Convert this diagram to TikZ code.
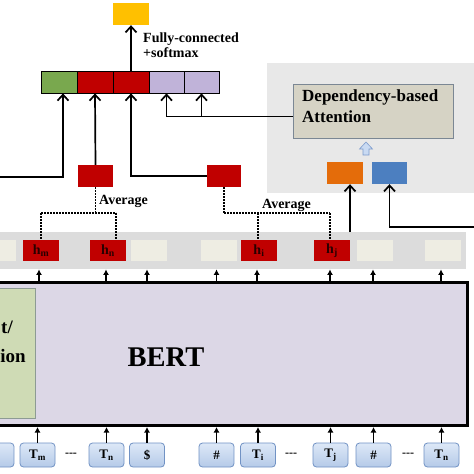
\documentclass[tikz,border=0pt]{standalone}
\usepackage{fontspec}
\setmainfont{Liberation Serif}
\usetikzlibrary{arrows.meta}
\definecolor{cred}{HTML}{C00000}
\definecolor{cgreen}{HTML}{79A84E}
\definecolor{cpurple}{HTML}{C0B3D9}
\definecolor{cyellow}{HTML}{FFC000}
\definecolor{corange}{HTML}{E46C0A}
\definecolor{cblue}{HTML}{4C7FC0}
\definecolor{panelgrey}{HTML}{E8E8E8}
\definecolor{bandgrey}{HTML}{DCDCDC}
\definecolor{beige}{HTML}{EEEDE3}
\definecolor{dbafill}{HTML}{D6D3C5}
\definecolor{dbaborder}{HTML}{7B8794}
\definecolor{bertfill}{HTML}{DCD7E6}
\definecolor{inpfill}{HTML}{CFDBB5}
\definecolor{inpborder}{HTML}{8D9B94}
\definecolor{toktop}{HTML}{DDE8F7}
\definecolor{tokbot}{HTML}{B5CAE8}
\definecolor{tokborder}{HTML}{7192C4}
\definecolor{blockfill}{HTML}{C9DAF2}
\definecolor{blockborder}{HTML}{7E9CCC}
\definecolor{htext}{HTML}{2A0000}
\tikzset{
  cell/.style={draw=black, line width=0.8pt, minimum width=36pt, minimum height=22pt, inner sep=0pt},
  plainbox/.style={minimum width=36pt, minimum height=22pt, inner sep=0pt},
  hbox/.style={minimum width=36pt, minimum height=21pt, inner sep=0pt, text=htext, font=\bfseries\fontsize{14}{14}\selectfont},
  tok/.style={rounded corners=3.5pt, draw=tokborder, line width=0.8pt, top color=toktop, bottom color=tokbot,
    minimum width=35pt, minimum height=24pt, inner sep=0pt, font=\bfseries\fontsize{13}{13}\selectfont},
  conn/.style={line width=1.7pt, -{Straight Barb[length=6pt,width=11pt,line width=1.7pt]}},
  small/.style={line width=1.2pt, -{Latex[length=5.5pt,width=6pt]}},
  dots/.style={line width=1.6pt, dash pattern=on 1.6pt off 1.4pt},
  lbl/.style={inner sep=0pt, font=\bfseries\fontsize{14}{15}\selectfont},
  dashlbl/.style={inner sep=0pt, font=\bfseries\fontsize{12}{12}\selectfont}
}
\begin{document}
\begin{tikzpicture}[x=1pt,y=-1pt]
\useasboundingbox (0,0) rectangle (474,474);
\clip (0,0) rectangle (474,474);
\fill[white] (0,0) rectangle (474,474);

% grey panel
\fill[panelgrey] (267,63) rectangle (490,193);

% output and concatenation
\node[plainbox, fill=cyellow] (out) at (131,14) {};
\node[lbl, anchor=north west, align=left] (fc) at (143,33) {Fully-connected\\+softmax};
\node[cell, fill=cgreen] (c1) at (59,82) {};
\node[cell, fill=cred] (c2) at (95,82) {};
\node[cell, fill=cred] (c3) at (131,82) {};
\node[cell, fill=cpurple, minimum width=35pt] (c4) at (166.5,82) {};
\node[cell, fill=cpurple, minimum width=35pt] (c5) at (201.5,82) {};

% dependency-based attention
\node[draw=dbaborder, line width=1pt, fill=dbafill, anchor=north west, minimum width=160pt, minimum height=54pt, inner sep=0pt] (dba) at (293,84) {};
\node[inner sep=0pt, anchor=north west, align=left, font=\bfseries\fontsize{17}{21}\selectfont] (dbat) at (302,90) {Dependency-based\\Attention};
\filldraw[fill=blockfill, draw=blockborder, line width=0.6pt] (363,155) -- (369,155) -- (369,149) -- (372.5,149) -- (366,142) -- (359.5,149) -- (363,149) -- cycle;
\node[plainbox, fill=corange] (orange) at (345,173) {};
\node[plainbox, fill=cblue, minimum width=35pt] (blue) at (389.5,173) {};

% averaged boxes
\node[plainbox, fill=cred, minimum width=35pt] (a1) at (95.5,176) {};
\node[plainbox, fill=cred, minimum width=34pt] (a2) at (224,176) {};
\node[lbl, anchor=base west] (av1) at (99,204) {Average};
\node[lbl, anchor=base west] (av2) at (262,208) {Average};

% hidden-state band
\node[fill=bandgrey, anchor=north west, minimum width=471pt, minimum height=37pt, inner sep=0pt] (band) at (-5,232) {};
\node[hbox, fill=beige] (b0) at (-2,250.5) {};
\node[hbox, fill=cred] (hm) at (41,250.5) {h\textsubscript{m}};
\node[hbox, fill=cred] (hn) at (108,250.5) {h\textsubscript{n}};
\node[hbox, fill=beige] (b1) at (149,250.5) {};
\node[hbox, fill=beige] (b2) at (218.5,250.5) {};
\node[hbox, fill=cred] (hi) at (259,250.5) {h\textsubscript{i}};
\node[hbox, fill=cred] (hj) at (332,250.5) {h\textsubscript{j}};
\node[hbox, fill=beige] (b3) at (375,250.5) {};
\node[hbox, fill=beige] (b4) at (443,250.5) {};

% BERT
\node[draw=black, line width=3pt, fill=bertfill, anchor=north west, minimum width=486pt, minimum height=143.5pt, inner sep=0pt] (bert) at (-20,280.5) {};
\node[draw=inpborder, line width=1pt, fill=inpfill, anchor=north west, minimum width=55pt, minimum height=130pt, inner sep=0pt] (inp) at (-20,288) {};
\node[inner sep=0pt, anchor=base east, font=\bfseries\fontsize{19}{19}\selectfont] (inpt1) at (13,333) {t/};
\node[inner sep=0pt, anchor=base east, font=\bfseries\fontsize{19}{19}\selectfont] (inpt2) at (26,362) {ion};
\node[inner sep=0pt, font=\bfseries\fontsize{28.5}{28.5}\selectfont] (berttext) at (166,357) {BERT};

% tokens
\node[tok] (t0) at (-3.5,455) {};
\node[tok] (tm) at (37.5,455) {T\textsubscript{m}};
\node[tok] (tn) at (106.5,455) {T\textsubscript{n}};
\node[tok] (td) at (147,455) {\$};
\node[tok] (th1) at (216.5,455) {\#};
\node[tok] (ti) at (258,455) {T\textsubscript{i}};
\node[tok] (tj) at (330.5,455) {T\textsubscript{j}};
\node[tok] (th2) at (373.5,455) {\#};
\node[tok] (tn2) at (441.5,455) {T\textsubscript{n}};
\node[dashlbl] (dd1) at (71,455) {-{}-{}-};
\node[dashlbl] (dd2) at (291,455) {-{}-{}-};
\node[dashlbl] (dd3) at (408,455) {-{}-{}-};

% arrows token -> BERT
\foreach \t in {tm,tn,td,th1,ti,tj,th2,tn2}
  \draw[small] (\t.north) -- (\t.north |- bert.south);
% arrows BERT -> band
\foreach \h in {hm,hn,b1,b2,hi,hj,b3,b4}
  \draw[small] ([xshift=-2pt]\h.south |- bert.north) -- ([xshift=-2pt]\h.south |- band.south);

% dotted averaging lines
\coordinate (d1) at (96,213);
\coordinate (d2) at (224,213);
\draw[dots] (a1.south) -- (a1.south |- d1);
\draw[dots] (hm.north |- d1) -- ([xshift=8pt]hn.north |- d1);
\draw[dots] (hm.north |- d1) -- (hm.north);
\draw[dots] ([xshift=8pt]hn.north |- d1) -- ([xshift=8pt]hn.north);
\draw[dots] (a2.south) -- (a2.south |- d2);
\draw[dots] (a2.south |- d2) -- ([xshift=-2pt]hj.north |- d2);
\draw[dots] ([xshift=-1pt]hi.north |- d2) -- ([xshift=-1pt]hi.north);
\draw[dots] ([xshift=-2pt]hj.north |- d2) -- ([xshift=-2pt]hj.north);

% connectors to concatenation
\draw[conn] (c3.north) -- (out.south);
\draw[conn] (a1.north) -- (c2.south);
\draw[conn] (a2.west) -| (c3.south);
\coordinate (lg) at (-5,177);
\draw[conn] (lg) -| ([xshift=4pt]c1.south);
\coordinate (dl) at ([yshift=-5pt]dba.west);
\draw[conn] (dl) -| (c4.south);
\draw[conn] (dl -| c5.south) -- (c5.south);

% connectors to the attention inputs
\coordinate (oa) at (350,232);
\draw[conn] (oa) -- (oa |- orange.south);
\coordinate (ba) at (480,227);
\draw[conn] (ba) -| (blue.south);
\end{tikzpicture}
\end{document}
